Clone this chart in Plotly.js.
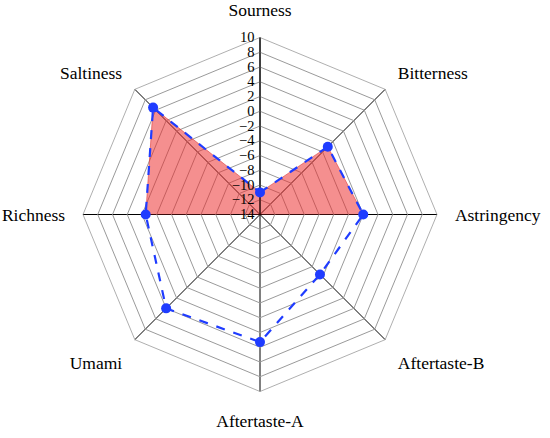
<!DOCTYPE html>
<html><head><meta charset="utf-8">
<script src="https://cdn.plot.ly/plotly-3.0.1.min.js"></script>
<style>html,body{margin:0;padding:0;background:#fff}#chart{width:550px;height:438px}</style>
</head><body><div id="chart"></div>
<script>
const categories = ["Sourness","Bitterness","Astringency","Aftertaste-B","Aftertaste-A","Umami","Richness","Saltiness"];
const values = [-11, -1, 0, -2.5, 3.3, 4, 1.5, 6.5];
const radialTicks = [-14,-12,-10,-8,-6,-4,-2,0,2,4,6,8,10];
// upper-half filled region (Astringency -> Bitterness -> Sourness -> Saltiness -> Richness)
const fillIdx = [2, 1, 0, 7, 6];

const fillTrace = {
  type: 'scatterpolar',
  theta: fillIdx.map(i => categories[i]),
  r: fillIdx.map(i => values[i]),
  fill: 'toself',
  fillcolor: 'rgba(235,40,40,0.52)',
  line: {color: 'rgba(220,60,60,0.6)', width: 1},
  mode: 'lines',
  hoverinfo: 'skip',
  showlegend: false
};
const lineTrace = {
  type: 'scatterpolar',
  theta: categories.concat([categories[0]]),
  r: values.concat([values[0]]),
  mode: 'lines',
  line: {color: '#1f3cff', width: 2.2, dash: 'dash'},
  showlegend: false
};
const markerTrace = {
  type: 'scatterpolar',
  subplot: 'polar2',
  theta: categories,
  r: values,
  mode: 'markers',
  marker: {color: '#1f3cff', size: 10},
  showlegend: false
};
const dom = {x: [83/550, 437/550], y: [1-391.5/438, 1-37.5/438]};
const layout = {
  width: 550, height: 438,
  margin: {l:0, r:0, t:0, b:0},
  paper_bgcolor: '#fff',
  showlegend: false,
  font: {family: 'Liberation Serif, DejaVu Serif, serif', color: '#000'},
  polar: {
    domain: dom,
    gridshape: 'linear',
    bgcolor: 'rgba(0,0,0,0)',
    radialaxis: {
      range: [-14, 10],
      tickvals: radialTicks,
      ticktext: radialTicks.map(v => v < 0 ? '\u2212' + Math.abs(v) : String(v)),
      angle: 90,
      tickangle: 90,
      side: 'counterclockwise',
      showline: true, linecolor: '#000', linewidth: 1,
      gridcolor: '#9a9a9a', gridwidth: 0.8,
      ticks: '',
      tickfont: {size: 14.5, family: 'Liberation Serif, DejaVu Serif, serif'}
    },
    angularaxis: {
      direction: 'clockwise',
      rotation: 90,
      categoryorder: 'array',
      categoryarray: categories,
      gridcolor: '#000', gridwidth: 1,
      linecolor: '#9a9a9a', linewidth: 0.8,
      ticks: 'outside', ticklen: 14, tickcolor: 'rgba(0,0,0,0)',
      tickfont: {size: 17.5, family: 'Liberation Serif, DejaVu Serif, serif'}
    }
  },
  polar2: {
    domain: dom,
    bgcolor: 'rgba(0,0,0,0)',
    radialaxis: {range: [-14, 10], visible: false, showgrid: false},
    angularaxis: {
      direction: 'clockwise', rotation: 90,
      categoryorder: 'array', categoryarray: categories,
      visible: false, showgrid: false, showline: false, showticklabels: false
    }
  }
};
Plotly.newPlot('chart', [fillTrace, lineTrace, markerTrace], layout, {displayModeBar: false});
</script>
</body></html>
